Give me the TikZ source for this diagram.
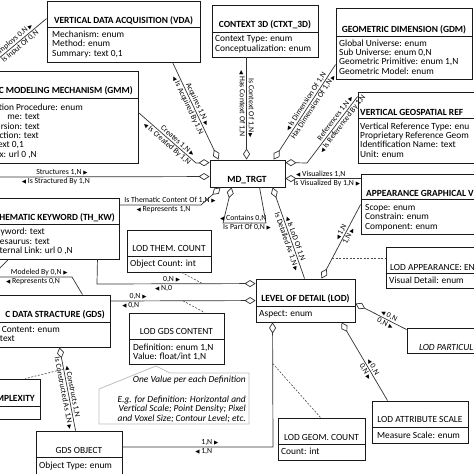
\documentclass[tikz,border=0pt]{standalone}
\usepackage{fontspec}
\setmainfont{Carlito}
\newfontfamily\symfont{DejaVu Sans}
\usetikzlibrary{arrows.meta,fit}
\newcommand{\triR}{{\symfont\fontsize{5.5}{6}\selectfont\char"25B6}}
\newcommand{\triL}{{\symfont\fontsize{5.5}{6}\selectfont\char"25C0}}
\begin{document}
\begin{tikzpicture}[x=1pt,y=-1pt,
  box/.style={draw=black!90, line width=0.9pt, inner sep=0pt},
  sepl/.style={draw=black!90, line width=0.8pt},
  ttl/.style={inner sep=0pt, anchor=base, font=\bfseries\fontsize{9.4}{10}\selectfont},
  ttlr/.style={inner sep=0pt, anchor=base, font=\fontsize{9.4}{10}\selectfont},
  attr/.style={inner sep=0pt, anchor=base west, font=\fontsize{9.4}{10}\selectfont},
  attre/.style={inner sep=0pt, anchor=base east, font=\fontsize{9.4}{10}\selectfont},
  conn/.style={draw=black!80, line width=0.7pt},
  agg/.style={-{Diamond[fill=white, length=11pt, width=7pt]}},
  lab/.style={inner sep=1pt, font=\fontsize{7.8}{8}\selectfont, sloped},
  labh/.style={inner sep=1pt, font=\fontsize{7.8}{8}\selectfont},
  dsh/.style={draw=black!70, line width=0.6pt, dash pattern=on 2pt off 1.5pt},
  notetxt/.style={inner sep=0pt, anchor=base east, font=\itshape\fontsize{9.4}{10}\selectfont}
]
\useasboundingbox (0,0) rectangle (474,474);
\fill[white] (0,0) rectangle (474,474);

% note
\draw[draw=black!25, line width=0.8pt, fill=white] (99,424) -- (99,389) -- (156,366) -- (170,373) -- (249,373) -- (249,424) -- cycle;
\node[notetxt] (n1) at (246,382) {One Value per each Definition};
\node[notetxt] (n2) at (246,402) {E.g. for Definition: Horizontal and};
\node[notetxt] (n3) at (246,411) {Vertical Scale; Point Density; Pixel};
\node[notetxt] (n4) at (246,421) {and Voxel Size; Contour Level; etc.};

% VDA
\node[box, fit={(47,1) (200,62)}] (vda) {};
\node[ttl] (vdat) at (123.5,23) {VERTICAL DATA ACQUISITION (VDA)};
\draw[sepl] (vda.west |- 0,27) -- (vda.east |- 0,27);
\node[attr] (vda1) at (52,37) {Mechanism: enum};
\node[attr] (vda2) at (52,46) {Method: enum};
\node[attr] (vda3) at (52,56) {Summary: text 0,1};

% CTXT
\node[box, fit={(212,5) (318,57)}] (ctxt) {};
\node[ttl] (ctxtt) at (265,27) {CONTEXT 3D (CTXT\_3D)};
\draw[sepl] (ctxt.west |- 0,32) -- (ctxt.east |- 0,32);
\node[attr] (ctxt1) at (215,41) {Context Type: enum};
\node[attr] (ctxt2) at (215,51) {Conceptualization: enum};

% GDM
\node[box, fit={(336,8) (472,79)}] (gdm) {};
\node[ttl] (gdmt) at (404,32) {GEOMETRIC DIMENSION (GDM)};
\draw[sepl] (gdm.west |- 0,36) -- (gdm.east |- 0,36);
\node[attr] (gdm1) at (339,46) {Global Universe: enum};
\node[attr] (gdm2) at (339,55) {Sub Universe: enum 0,N};
\node[attr] (gdm3) at (339,64) {Geometric Primitive: enum 1,N};
\node[attr] (gdm4) at (339,74) {Geometric Model: enum};

% VGR
\node[box, fit={(358,92) (490,163)}] (vgr) {};
\node[ttl, anchor=base west] (vgrt) at (360,115) {VERTICAL GEOSPATIAL REF};
\draw[sepl] (vgr.west |- 0,118.5) -- (vgr.east |- 0,118.5);
\node[attr] (vgr1) at (360,129) {Vertical Reference Type: enu};
\node[attr] (vgr2) at (360,138) {Proprietary Reference Geom};
\node[attr] (vgr3) at (360,147) {Identification Name: text};
\node[attr] (vgr4) at (360,157) {Unit: enum};

% AGV
\node[box, fit={(361,174) (490,234)}] (agv) {};
\node[ttl, anchor=base west] (agvt) at (366,196) {APPEARANCE GRAPHICAL V};
\draw[sepl] (agv.west |- 0,199.5) -- (agv.east |- 0,199.5);
\node[attr] (agv1) at (365,210) {Scope: enum};
\node[attr] (agv2) at (365,219.5) {Constrain: enum};
\node[attr] (agv3) at (365,229.5) {Component: enum};

% LOD APPEARANCE
\node[box, fit={(386,247) (490,288)}] (lodapp) {};
\node[ttlr, anchor=base west] (lodappt) at (390,270) {LOD APPEARANCE: EN};
\draw[sepl] (lodapp.west |- 0,273) -- (lodapp.east |- 0,273);
\node[attr] (lodapp1) at (389,283) {Visual Detail: enum};

% LOD PARTICUL
\node[box, fit={(407,328) (490,353)}] (lodpart) {};
\node[ttlr, anchor=base west, font=\itshape\fontsize{9.4}{10}\selectfont] (lodpartt) at (419,350) {LOD PARTICUL};

% LOD ATTRIBUTE SCALE
\node[box, fit={(372,401) (468,443)}] (lodattr) {};
\node[ttlr] (lodattrt) at (420,422) {LOD ATTRIBUTE SCALE};
\draw[sepl] (lodattr.west |- 0,427) -- (lodattr.east |- 0,427);
\node[attr] (lodattr1) at (377,438) {Measure Scale: enum};

% LOD GEOM COUNT
\node[box, fit={(278,418) (365,460)}] (lodgeom) {};
\node[ttlr] (lodgeomt) at (321.5,440) {LOD GEOM. COUNT};
\draw[sepl] (lodgeom.west |- 0,444) -- (lodgeom.east |- 0,444);
\node[attr] (lodgeom1) at (281,454) {Count: int};

% GDS OBJECT
\node[box, fit={(36,431) (122,490)}] (gdsobj) {};
\node[ttlr] (gdsobjt) at (79,453) {GDS OBJECT};
\draw[sepl] (gdsobj.west |- 0,457) -- (gdsobj.east |- 0,457);
\node[attr] (gdsobj1) at (39,468) {Object Type: enum};

% COMPLEXITY
\node[box, fit={(-20,379) (40,419)}] (cmplx) {};
\node[ttl, anchor=base east] (cmplxt) at (35,401) {MPLEXITY};
\draw[sepl] (cmplx.west |- 0,406) -- (cmplx.east |- 0,406);

% GDS
\node[box, fit={(-20,295) (110,347)}] (gds) {};
\node[ttl, anchor=base east] (gdst) at (105,317) {C DATA STRACTURE (GDS)};
\draw[sepl] (gds.west |- 0,322) -- (gds.east |- 0,322);
\node[attre] (gds1) at (60,332) {Content: enum};
\node[attre] (gds2) at (15,341) {text};

% TH_KW
\node[box, fit={(-20,198) (119,259)}] (thkw) {};
\node[ttl, anchor=base east] (thkwt) at (115,220) {HEMATIC KEYWORD (TH\_KW)};
\draw[sepl] (thkw.west |- 0,224) -- (thkw.east |- 0,224);
\node[attre] (thkw1) at (45,234) {yword: text};
\node[attre] (thkw2) at (50,244) {esaurus: text};
\node[attre] (thkw3) at (73,253) {ternal Link: url 0 ,N};

% GMM
\node[box, fit={(-20,71) (138,163)}] (gmm) {};
\node[ttl, anchor=base east] (gmmt) at (133,93) {C MODELING MECHANISM (GMM)};
\draw[sepl] (gmm.west |- 0,98) -- (gmm.east |- 0,98);
\node[attre] (gmm1) at (83,110) {tion Procedure: enum};
\node[attre] (gmm2) at (40,119) {me: text};
\node[attre] (gmm3) at (40,129) {rsion: text};
\node[attre] (gmm4) at (39,138) {ction: text};
\node[attre] (gmm5) at (24,147) {ext 0,1};
\node[attre] (gmm6) at (37,157) {x: url 0 ,N};

% LOD THEM COUNT
\node[box, fit={(127,230) (211,272)}] (lodthem) {};
\node[ttlr] (lodthemt) at (169,251) {LOD THEM. COUNT};
\draw[sepl] (lodthem.west |- 0,256) -- (lodthem.east |- 0,256);
\node[attr] (lodthem1) at (130,266) {Object Count: int};

% LOD GDS CONTENT
\node[box, fit={(129,313) (224,364)}] (lodgds) {};
\node[ttlr] (lodgdst) at (176.5,334) {LOD GDS CONTENT};
\draw[sepl] (lodgds.west |- 0,339) -- (lodgds.east |- 0,339);
\node[attr] (lodgds1) at (133,350) {Definition: enum 1,N};
\node[attr] (lodgds2) at (133,359) {Value: float/int 1,N};

% MD_TRGT
\node[box, fit={(210,160) (285,187)}] (md) {};
\node[ttl] (mdt) at (247,182) {MD\_TRGT};

% LOD
\node[box, fit={(256,279) (355,322)}] (lod) {};
\node[ttl] (lodt) at (305.5,301) {LEVEL OF DETAIL (LOD)};
\draw[sepl] (lod.west |- 0,306) -- (lod.east |- 0,306);
\node[attr] (lod1) at (259,316) {Aspect: enum};

% ---------- connectors ----------
\coordinate (e1) at (-8,64);
\draw[conn] (e1) -- node[lab, above, pos=0.46] (l1a) {Employs 0,N \triR} node[lab, below, pos=0.46] (l1b) {Is Input Of 0,N} ([yshift=-18pt]vda.north west);

\draw[conn, agg] ([xshift=126pt]vda.south west) -- node[lab, above, pos=0.45] (l2a) {Acquires 1,N \triR} node[lab, below, pos=0.42] (l2b) {\triL{} Is Acquired By 1,N} ([xshift=9pt]md.north west);

\draw[conn, agg] ([xshift=35pt]ctxt.south west) -- node[labh, rotate=-90, above, pos=0.5] (l3a) {Is Context Of 1,N \triR} node[labh, rotate=-90, below, pos=0.45] (l3b) {\triL{} Has Context Of 1,N} ([xshift=37pt]md.north west);

\draw[conn, agg] ([yshift=-57pt]gdm.north west) -- node[lab, above, pos=0.42] (l4a) {\triL{} Is Dimension Of 1,N} node[lab, below, pos=0.42] (l4b) {Has Dimension Of 1,N \triR} ([xshift=64pt]md.north west);

\draw[conn, agg] ([yshift=-5pt]vgr.north west) -- node[lab, above, pos=0.37] (l5a) {References 1,N \triR} node[lab, below, pos=0.37] (l5b) {\triL{} Is Referenced By 1,N} (307,163) -- ([yshift=-3pt]md.north east);

\draw[conn, agg] ([yshift=-5pt]agv.north west) -- node[labh, above, pos=0.53] (l6a) {\triL{} Visualizes 1,N} node[labh, below, pos=0.45] (l6b) {Is Visualized By 1,N \triR} ([yshift=-19pt]md.north east);

\draw[conn, agg] ([yshift=-31pt]agv.north west) -- node[lab, above, pos=0.4] (l7a) {\triL{} 1,N} node[lab, below, pos=0.4] (l7b) {1,N \triR} coordinate[pos=0.73] (c7d) ([xshift=66pt]lod.north west);
\draw[dsh] (c7d) -- (c7d -| lodapp.west);

\draw[conn, agg] ([yshift=-2pt]lodpart.north west) -- node[lab, above, pos=0.38] (l9a) {\triL{} 0,N} node[lab, below, pos=0.38] (l9b) {0,N \triR} ([yshift=-25pt]lod.north east);

\draw[conn, agg] ([xshift=16pt]lodattr.north west) -- node[lab, above, pos=0.4] (l10a) {\triL{} 0,N} node[lab, below, pos=0.4] (l10b) {0,N \triR} ([xshift=86pt]lod.south west);

\draw[conn, agg] (gdsobj.east |- 0,447) -- node[labh, above, pos=0.58] (l11a) {1,N \triR} node[labh, below, pos=0.54] (l11b) {\triL{} 1,N} (273,447) -- coordinate[pos=0.67] (c11d) ([xshift=17pt]lod.south west);
\draw[dsh] (c11d) -- ([xshift=43pt]lodgeom.north west);

\draw[conn, agg] ([xshift=-22pt]thkw.south east) -- (97,284) -- node[labh, above, pos=0.47] (l13a) {0,N \triR} node[labh, below, pos=0.42] (l13b) {\triL{} N,0} coordinate[pos=0.667] (c13d) ([yshift=-5pt]lod.north west);
\draw[dsh] ([xshift=55pt]lodthem.south west) -- (c13d);

\draw[conn, agg] (gds.east |- 0,301) -- node[labh, above, pos=0.19] (l15a) {0,N \triR} node[labh, below, pos=0.14] (l15b) {\triL{} 0,N} coordinate[pos=0.5] (c15d) ([yshift=-22pt]lod.north west);
\draw[dsh] (c15d) -- ([xshift=76pt]lodgds.north west);

\draw[conn, agg] (thkw.east |- 0,205) -- node[labh, above, pos=0.62] (l17a) {Is Thematic Content Of 1,N \triR} node[labh, below, pos=0.54] (l17b) {\triL{} Represents 1,N} (201,205) -- ([xshift=11pt]md.south west);

\coordinate (e18) at (-6,177);
\draw[conn, agg] (e18) -- node[labh, above, pos=0.315] (l18a) {Structures 1,N \triR} node[labh, below, pos=0.287] (l18b) {\triL{} Is Stractured By 1,N} ([yshift=-17pt]md.north west);

\draw[conn, agg] ([yshift=-42pt]gmm.north east) -- node[lab, above, pos=0.63] (l19a) {Creates 1,N \triR} node[lab, below, pos=0.55] (l19b) {\triL{} Is Created By 1,N} (196,163) -- ([yshift=-3pt]md.north west);

\draw[conn, agg] ([xshift=50pt]md.south west) -- (266,223) -- node[labh, above, pos=0.53] (l20a) {\triL{} Contains 0,N} node[labh, below, pos=0.44] (l20b) {Is Part Of 0,N \triR} (223,223) -- ([xshift=22pt]md.south west);

\draw[conn, agg] ([xshift=49pt]lod.north west) -- node[lab, above, pos=0.42] (l21a) {\triL{} Is LoD Of 1,N} node[lab, below, pos=0.42] (l21b) {Is Detailed As 1,N \triR} ([xshift=63pt]md.south west);

\draw[conn, agg] ([xshift=40pt]gdsobj.north west) -- node[lab, above, pos=0.46] (l22a) {\triL{} Constructs 1,N} node[lab, below, pos=0.46] (l22b) {Is Constructed As 1,N \triR} coordinate[pos=0.74] (c22d) ([xshift=-51pt]gds.south east);
\draw[dsh] (c22d) -- ([xshift=-15pt]cmplx.north east);

\coordinate (e24) at (-6,277);
\draw[conn] (e24) -- node[labh, above, pos=0.58] (l24a) {Modeled By 0,N \triR} node[labh, below, pos=0.5] (l24b) {\triL{} Represents 0,N} (72,277) -- ([xshift=-28pt]gds.north east);

\coordinate (e25) at (-4,272);
\draw[conn] ([xshift=-111pt]thkw.south east) -- (e25);
\end{tikzpicture}
\end{document}
